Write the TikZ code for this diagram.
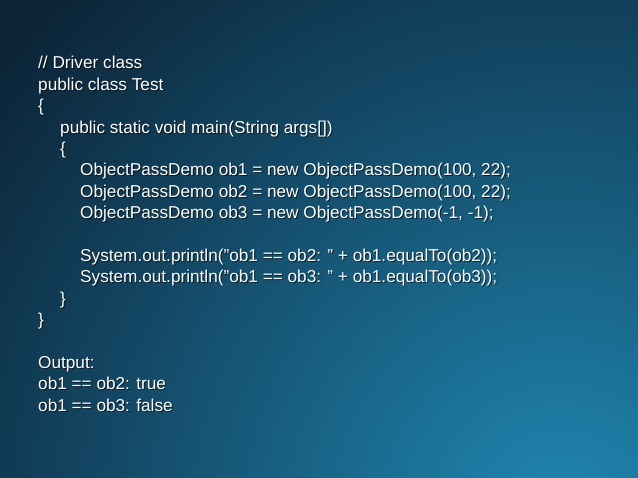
\documentclass[tikz,border=0pt]{standalone}
\usepackage{fontspec}
\setmainfont{Liberation Sans}
\definecolor{bgdark}{RGB}{12,36,56}
\definecolor{bglight}{RGB}{32,135,178}
\begin{document}
\begin{tikzpicture}[x=1pt,y=-1pt,
  codeline/.style={anchor=base west,inner sep=0pt,font=\fontsize{17.2}{20}\selectfont,text=white},
  shadowline/.style={codeline,text=black,opacity=0.6}]
\useasboundingbox (0,0) rectangle (638,478);
\begin{scope}
\clip (0,0) rectangle (638,478);
\fill[bgdark] (0,0) rectangle (638,478);
\shade[inner color=bglight,outer color=bgdark] (560,520) circle (720);
\end{scope}
\foreach \t/\x/\i in {{// Driver class}/38/0,{public class Test}/38/1,{\{}/38/2,{public static void main(String args[])}/60/3,{\{}/60/4,{ObjectPassDemo ob1 = new ObjectPassDemo(100, 22);}/80/5,{ObjectPassDemo ob2 = new ObjectPassDemo(100, 22);}/80/6,{ObjectPassDemo ob3 = new ObjectPassDemo(-1, -1);}/80/7,{System.out.println("ob1 == ob2: " + ob1.equalTo(ob2));}/80/9,{System.out.println("ob1 == ob3: " + ob1.equalTo(ob3));}/80/10,{\}}/60/11,{\}}/38/12,{Output:}/38/14,{ob1 == ob2: true}/38/15,{ob1 == ob3: false}/38/16}{
  \node[shadowline] (s\i) at (\x+1,{69+21.4*\i+1}) {\t};
  \node[codeline] (l\i) at (\x,{69+21.4*\i}) {\t};
}
\end{tikzpicture}
\end{document}
